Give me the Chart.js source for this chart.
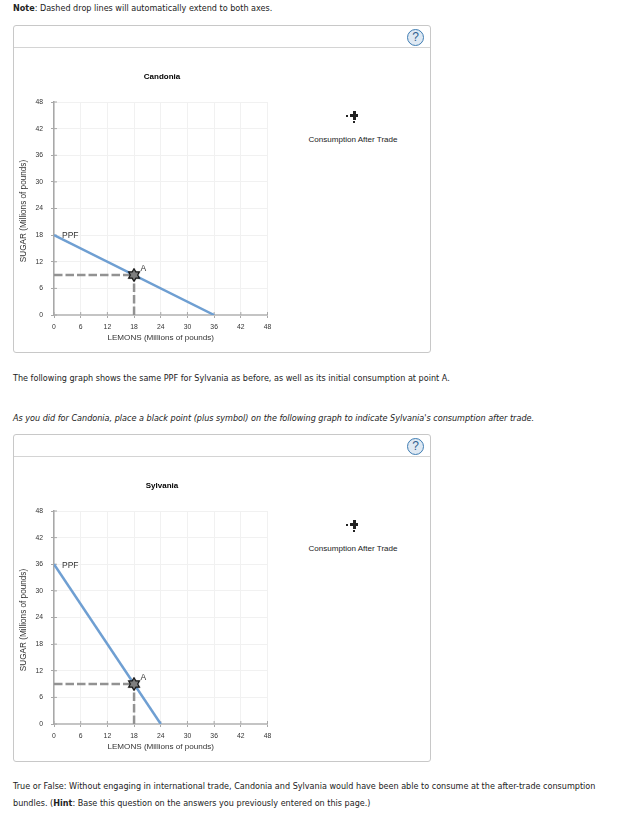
<!DOCTYPE html>
<html>
<head>
<meta charset="utf-8">
<title>Candonia and Sylvania PPF</title>
<script src="https://cdn.jsdelivr.net/npm/chart.js@4"></script>
<style>
  html, body { margin: 0; padding: 0; background: #fff; }
  body { position: relative; width: 618px; height: 814px; overflow: hidden; font-family: "DejaVu Sans", sans-serif; font-size: 8.08px; color: #222; }
  .txt { position: absolute; white-space: nowrap; line-height: 10px; }
  .panel { position: absolute; left: 13px; width: 416px; height: 326px; border: 1px solid #c8c8c8; border-radius: 3px; box-sizing: content-box; }
  .panel .head { position: absolute; left: 0; right: 0; top: 21px; border-top: 1px solid #d4d4d4; }
  .help { position: absolute; left: 393px; top: 2.5px; width: 15px; height: 15px; border: 1px solid #3f7db3; border-radius: 50%; background: #dfe9f3; color: #2f5f8f; font: 12px/15px "Liberation Sans", sans-serif; text-align: center; }
  canvas { position: absolute; }
  .palette { position: absolute; left: 280px; width: 118px; text-align: center; font: 8.05px/10px "Liberation Sans", sans-serif; color: #222; }
  .glyph { position: absolute; background: #222; }
</style>
</head>
<body>
<div class="txt" style="left:13px;top:3px"><b>Note</b>: Dashed drop lines will automatically extend to both axes.</div>

<div class="panel" style="top:25px">
  <div class="head"></div><div class="help">?</div>
  <div class="palette" style="top:109px">Consumption After Trade</div>
  <div class="glyph" style="left:336px;top:88px;width:8px;height:3px"></div>
  <div class="glyph" style="left:338.5px;top:85px;width:3px;height:9px"></div>
  <div class="glyph" style="left:332px;top:88.5px;width:2px;height:2px"></div>
  <div class="glyph" style="left:339px;top:95px;width:2px;height:2px"></div>
</div>
<canvas id="candonia" style="left:14px;top:48px"></canvas>

<div class="txt" style="left:13px;top:373px">The following graph shows the same PPF for Sylvania as before, as well as its initial consumption at point A.</div>
<div class="txt" style="left:13px;top:413px"><i>As you did for Candonia, place a black point (plus symbol) on the following graph to indicate Sylvania's consumption after trade.</i></div>

<div class="panel" style="top:434px">
  <div class="head"></div><div class="help">?</div>
  <div class="palette" style="top:109px">Consumption After Trade</div>
  <div class="glyph" style="left:336px;top:88px;width:8px;height:3px"></div>
  <div class="glyph" style="left:338.5px;top:85px;width:3px;height:9px"></div>
  <div class="glyph" style="left:332px;top:88.5px;width:2px;height:2px"></div>
  <div class="glyph" style="left:339px;top:95px;width:2px;height:2px"></div>
</div>
<canvas id="sylvania" style="left:14px;top:457px"></canvas>

<div class="txt" style="left:13px;top:781px">True or False: Without engaging in international trade, Candonia and Sylvania would have been able to consume at the after-trade consumption</div>
<div class="txt" style="left:13px;top:798px">bundles. (<b>Hint</b>: Base this question on the answers you previously entered on this page.)</div>

<script>
const tickValues = [0, 6, 12, 18, 24, 30, 36, 42, 48];
const candoniaLemons = [0, 36];
const candoniaSugar = [18, 0];
const sylvaniaLemons = [0, 24];
const sylvaniaSugar = [36, 0];
const pointALemons = 18;
const pointASugar = 9;
const xTitle = "LEMONS (Millions of pounds)";
const yTitle = "SUGAR (Millions of pounds)";

// six pointed star for point A
function makeStar() {
  let c = document.createElement("canvas");
  c.width = 14; c.height = 14;
  let g = c.getContext("2d");
  g.fillStyle = "#7f7f7f";
  g.strokeStyle = "#111";
  g.lineWidth = 1.2;
  g.lineJoin = "miter";
  g.beginPath();
  for (let i = 0; i < 12; i++) {
    let r = i % 2 == 0 ? 6.3 : 3.7;
    let a = -Math.PI / 2 + i * Math.PI / 6;
    let px = 7 + r * Math.cos(a), py = 7 + r * Math.sin(a);
    if (i == 0) g.moveTo(px, py); else g.lineTo(px, py);
  }
  g.closePath();
  g.fill();
  g.stroke();
  return c;
}
const star = makeStar();

// small part of every tick on the inner side of the axes, plus the text labels
const extras = {
  id: "extras",
  beforeDatasetsDraw(chart) {
    let g = chart.ctx, x = chart.scales.x, y = chart.scales.y;
    g.save();
    g.strokeStyle = "#a8a8a8";
    g.lineWidth = 1;
    tickValues.forEach(v => {
      let px = x.getPixelForValue(v), py = y.getPixelForValue(v);
      g.beginPath();
      g.moveTo(px, y.bottom); g.lineTo(px, y.bottom - 3);
      g.moveTo(x.left, py); g.lineTo(x.left + 3, py);
      g.stroke();
    });
    g.restore();
  },
  afterDatasetsDraw(chart, args, opts) {
    let g = chart.ctx, x = chart.scales.x, y = chart.scales.y;
    g.save();
    g.fillStyle = "#333";
    g.font = '8.5px "Liberation Sans"';
    g.textBaseline = "middle";
    g.fillText("PPF", x.getPixelForValue(0) + 8, y.getPixelForValue(opts.ppfTop) + 1);
    g.fillText("A", x.getPixelForValue(pointALemons) + 6.5, y.getPixelForValue(pointASugar) - 6);
    // y axis title sits a little below the middle of the axis
    g.font = '8.2px "Liberation Sans"';
    g.textAlign = "center";
    g.translate(24 - 14, (y.top + y.bottom) / 2 + 2.5);
    g.rotate(-Math.PI / 2);
    g.fillText(yTitle, 0, 0);
    g.restore();
  }
};

function drawGraph(id, title, lemons, sugar) {
  let el = document.getElementById(id);
  el.width = 296;
  el.height = 303;
  el.style.width = "296px";
  el.style.height = "303px";
  const pts = (xs, ys) => xs.map((v, i) => ({ x: v, y: ys[i] }));
  return new Chart(el.getContext("2d"), {
    type: "scatter",
    data: {
      datasets: [
        { data: pts([0, pointALemons], [pointASugar, pointASugar]), showLine: true, pointRadius: 0, borderColor: "#929292", borderWidth: 2.5, borderDash: [8.5, 3], order: 3 },
        { data: pts([pointALemons, pointALemons], [0, pointASugar]), showLine: true, pointRadius: 0, borderColor: "#929292", borderWidth: 2.5, borderDash: [8.5, 3], order: 3 },
        { data: pts(lemons, sugar), showLine: true, pointRadius: 0, borderColor: "#6f9fd2", borderWidth: 2.5, order: 2 },
        { data: pts([pointALemons], [pointASugar]), pointStyle: star, order: 1 }
      ]
    },
    plugins: [extras],
    options: {
      responsive: false,
      animation: false,
      devicePixelRatio: 1,
      plugins: {
        legend: { display: false },
        tooltip: { enabled: false },
        title: { display: true, text: title, color: "#000", font: { family: "Liberation Sans", size: 8, weight: "bold", lineHeight: 1.2 }, padding: { top: 24, bottom: 20.4 } },
        extras: { ppfTop: sugar[0] }
      },
      scales: {
        x: {
          type: "linear", min: 0, max: 48,
          afterBuildTicks: s => { s.ticks = tickValues.map(v => ({ value: v })); },
          afterFit: s => { s.height = 36; },
          border: { color: "#c4c4c4", width: 2 },
          grid: { color: "#f1f1f1", tickColor: "#a8a8a8", tickLength: 3, lineWidth: 1 },
          ticks: { color: "#333", font: { family: "Liberation Sans", size: 6.8 }, padding: 5, maxRotation: 0, autoSkip: false },
          title: { display: true, text: xTitle, color: "#333", font: { family: "Liberation Sans", size: 8.1 }, padding: { top: 3, bottom: 8 } }
        },
        y: {
          type: "linear", min: 0, max: 48,
          afterBuildTicks: s => { s.ticks = tickValues.map(v => ({ value: v })); },
          afterFit: s => { s.width = 40; },
          border: { color: "#a8a8a8", width: 1.5 },
          grid: { color: "#f1f1f1", tickColor: "#a8a8a8", tickLength: 3, lineWidth: 1 },
          ticks: { color: "#333", font: { family: "Liberation Sans", size: 6.8 }, padding: 8, autoSkip: false }
        },
        // empty axis only keeps the space on the right of the plot
        spacer: {
          type: "linear", position: "right", min: 0, max: 48,
          afterFit: s => { s.width = 42.5; },
          border: { display: false },
          grid: { display: false, drawTicks: false },
          ticks: { display: false }
        }
      }
    }
  });
}

drawGraph("candonia", "Candonia", candoniaLemons, candoniaSugar);
drawGraph("sylvania", "Sylvania", sylvaniaLemons, sylvaniaSugar);
</script>
</body>
</html>
